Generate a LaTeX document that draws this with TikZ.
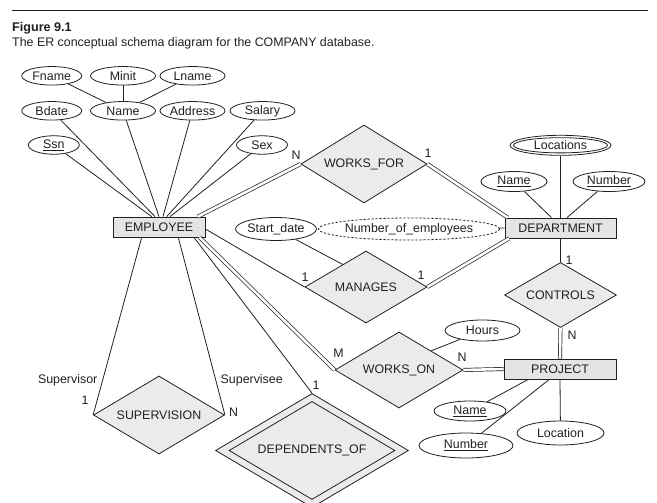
\documentclass[tikz,border=0pt]{standalone}
\usepackage{fontspec}
\setmainfont{Liberation Sans}
\usetikzlibrary{shapes.geometric,calc}
\definecolor{ink}{HTML}{231F20}
\definecolor{boxfill}{HTML}{E4E4E4}
\definecolor{relfill}{HTML}{EBEBEB}
\tikzset{
  lbl/.style={font=\fontsize{12.4}{14}\selectfont, text=ink},
  attr/.style={ellipse, draw=ink, fill=white, inner sep=0pt, line width=0.8pt, lbl},
  entity/.style={rectangle, draw=ink, fill=boxfill, inner sep=0pt, minimum height=20pt, line width=0.8pt, lbl},
  rel/.style={diamond, draw=ink, fill=relfill, inner sep=0pt, shape aspect=1.6, line width=0.8pt, lbl},
  link/.style={draw=ink, line width=0.8pt},
  dlink/.style={draw=ink, double=white, double distance=2.6pt, line width=0.7pt},
  card/.style={inner sep=0pt, lbl},
}
\begin{document}
\begin{tikzpicture}[x=1pt,y=-1pt]
\useasboundingbox (0,0) rectangle (657,503);
% header
\draw[ink, line width=0.9pt] (12,10) -- (648,10);
\node[card, anchor=base west, font=\fontsize{12.6}{14}\selectfont\bfseries] (fig) at (12,31.7) {Figure 9.1};
\node[card, anchor=base west, font=\fontsize{12.4}{14}\selectfont] (cap) at (12,46.5) {The ER conceptual schema diagram for the COMPANY database.};

% entities
\node[entity, minimum width=92pt] (emp) at (159,227) {EMPLOYEE};
\node[entity, minimum width=111pt] (dept) at (560.5,228) {DEPARTMENT};
\node[entity, minimum width=112pt] (proj) at (560,369) {PROJECT};

% relationships
\node[rel, minimum width=126pt, minimum height=78pt] (wf) at (364,164) {WORKS\_FOR};
\node[rel, minimum width=122pt, minimum height=72pt] (man) at (366,287) {MANAGES};
\node[rel, minimum width=112pt, minimum height=65pt] (ctrl) at (560.5,295) {CONTROLS};
\node[rel, minimum width=128pt, minimum height=76pt] (won) at (399,370) {WORKS\_ON};
\node[rel, minimum width=131pt, minimum height=78pt] (sup) at (159,415) {SUPERVISION};
\node[rel, minimum width=193pt, minimum height=114pt] (dep) at (312,450.5) {};
\node[rel, minimum width=166pt, minimum height=98pt] (depin) at (312,450.5) {DEPENDENTS\_OF};

% employee attributes
\node[attr, minimum width=60pt, minimum height=18.5pt] (fname) at (51.7,75.8) {Fname};
\node[attr, minimum width=65pt, minimum height=18.5pt] (minit) at (123,75.8) {Minit};
\node[attr, minimum width=65pt, minimum height=18.5pt] (lname) at (192.5,75.8) {Lname};
\node[attr, minimum width=60pt, minimum height=18.5pt] (bdate) at (51.7,110.8) {Bdate};
\node[attr, minimum width=65pt, minimum height=18.5pt] (ename) at (123,110.8) {Name};
\node[attr, minimum width=65pt, minimum height=18.5pt] (addr) at (192.5,110.8) {Address};
\node[attr, minimum width=65pt, minimum height=18.5pt] (sal) at (262.5,110.8) {Salary};
\node[attr, minimum width=51pt, minimum height=18.5pt] (ssn) at (53.8,145) {\underline{Ssn}};
\node[attr, minimum width=51pt, minimum height=18.5pt] (sex) at (262,145) {Sex};

% department attributes
\node[attr, minimum width=101pt, minimum height=20pt] (locs) at (560.5,145.3) {Locations};
\draw[ink, line width=0.8pt] (locs.center) ellipse [x radius=47pt, y radius=7.6pt];
\node[attr, minimum width=66pt, minimum height=20pt] (dname) at (514,181.5) {\underline{Name}};
\node[attr, minimum width=72pt, minimum height=20pt] (dnum) at (609,181.5) {\underline{Number}};
\node[attr, minimum width=150pt, minimum height=22pt, dash pattern=on 2.2pt off 1.8pt] (noe) at (409,229) {Number\_of\_employees};
\node[attr, minimum width=72pt, minimum height=23pt] (sd) at (276,229) {Start\_date};

% works_on / project attributes
\node[attr, minimum width=75pt, minimum height=21pt] (hours) at (482.5,330.5) {Hours};
\node[attr, minimum width=72pt, minimum height=20pt] (pname) at (470,411) {\underline{Name}};
\node[attr, minimum width=94pt, minimum height=25pt] (pnum) at (466,445.5) {\underline{Number}};
\node[attr, minimum width=87pt, minimum height=24pt] (ploc) at (560.5,433) {Location};

% attribute links
\draw[link] (fname) -- (ename);
\draw[link] (minit) -- (ename);
\draw[link] (lname) -- (ename);
\draw[link] (ssn) -- ([xshift=-7.3pt]emp.north);
\draw[link] (bdate) -- ([xshift=-4pt]emp.north);
\draw[link] (ename) -- (emp.north);
\draw[link] (addr) -- ([xshift=4pt]emp.north);
\draw[link] (sal) -- ([xshift=7.7pt]emp.north);
\draw[link] (sex) -- ([xshift=11pt]emp.north);

\draw[link] (locs) -- (dept.north);
\draw[link] (dname) -- ([xshift=-9pt]dept.north);
\draw[link] (dnum) -- ([xshift=6.5pt]dept.north);
\draw[link] (noe) -- (dept.west);
\draw[link] (sd) -- ($(man.west)!0.62!(man.north)$);
\draw[link] (hours) -- ($(won.north)!0.5!(won.east)$);
\draw[link] (pname) -- ([xshift=-31.7pt]proj.south);
\draw[link] (pnum) -- ([xshift=-10.7pt]proj.south);
\draw[link] (ploc) -- (proj.south);

% relationship links
\draw[dlink] ([xshift=39pt]emp.north) -- (wf.west);
\draw[dlink] (wf.east) -- ([xshift=3pt]dept.north west);
\draw[link] ([yshift=-2pt]emp.east) -- (man.west);
\draw[dlink] (man.east) -- ([xshift=4.5pt]dept.south west);
\draw[link] (dept.south) -- (ctrl.north);
\draw[dlink] (ctrl.south) -- (proj.north);
\draw[dlink] ([xshift=40.5pt]emp.south) -- (won.west);
\draw[dlink] (won.east) -- (proj.west);
\draw[link] ([xshift=35pt]emp.south) -- (dep.north);
\draw[link] ([xshift=-17.3pt]emp.south) -- (sup.west);
\draw[link] ([xshift=19.3pt]emp.south) -- (sup.east);

% cardinalities and roles
\node[card] (c1) at (296,155) {N};
\node[card] (c2) at (428,153.5) {1};
\node[card] (c3) at (305,277) {1};
\node[card] (c4) at (421,275) {1};
\node[card] (c5) at (569,260) {1};
\node[card] (c6) at (572,335) {N};
\node[card] (c7) at (338.5,353) {M};
\node[card] (c8) at (462,357) {N};
\node[card] (c9) at (316,385) {1};
\node[card, anchor=east] (r1) at (97.5,380) {Supervisor};
\node[card] (c10) at (85,400) {1};
\node[card, anchor=west] (r2) at (220.5,380) {Supervisee};
\node[card] (c11) at (233.5,412.5) {N};
\end{tikzpicture}
\end{document}
